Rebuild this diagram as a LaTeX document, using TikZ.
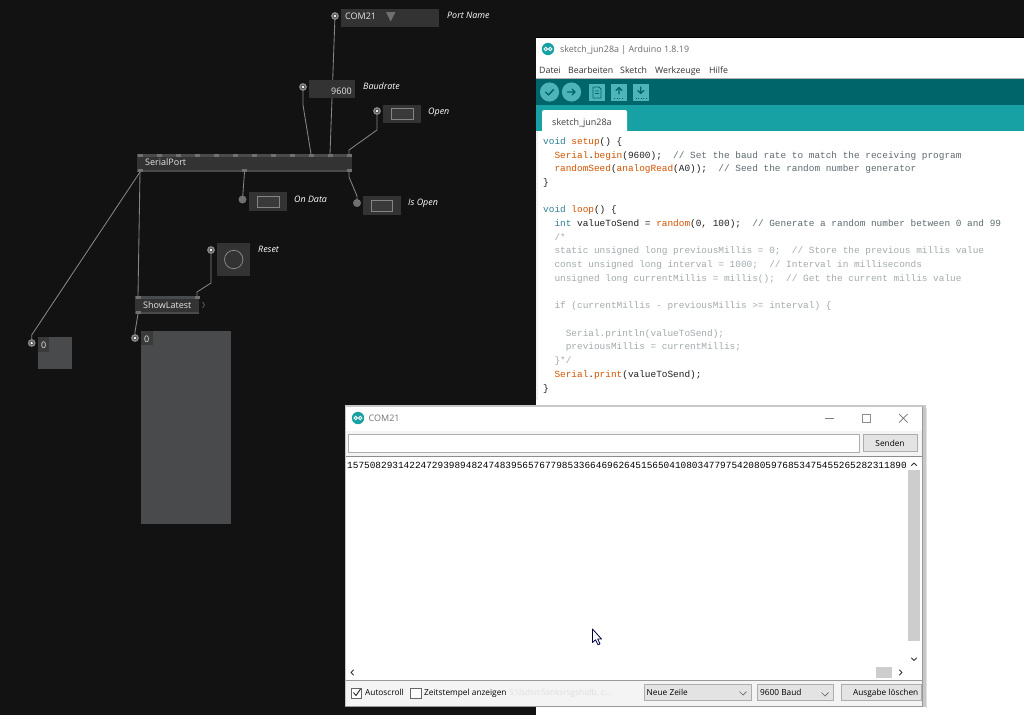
\documentclass[tikz,border=0pt]{standalone}
\usepackage{fontspec}
\setmainfont{Open Sans}
\newfontfamily\codefont{Liberation Mono}
\usetikzlibrary{backgrounds}
\definecolor{bgdark}{HTML}{121212}
\definecolor{boxgray}{HTML}{333333}
\definecolor{pinGray}{HTML}{707070}
\definecolor{wireGray}{HTML}{858585}
\definecolor{ioBox}{HTML}{484A4B}
\definecolor{tagGray}{HTML}{3A3A3A}
\definecolor{tealDark}{HTML}{00646B}
\definecolor{tealMid}{HTML}{17A1A5}
\definecolor{tealLight}{HTML}{4DB5BA}
\definecolor{cOrange}{HTML}{D35400}
\definecolor{cBlue}{HTML}{2F7F93}
\definecolor{cText}{HTML}{1F1F1F}
\definecolor{cCmt}{HTML}{5F6B70}
\definecolor{cFade}{HTML}{A3AAAD}
\definecolor{monGray}{HTML}{F4F4F4}
\definecolor{edgeGray}{HTML}{ADADAD}
\definecolor{btnGray}{HTML}{E3E3E3}
\definecolor{thumbGray}{HTML}{CDCDCD}
\tikzset{
  x=1pt,y=-1pt,
  wire/.style={draw=wireGray,line width=0.85pt,line join=round},
  pinio/.style={circle,inner sep=0pt,outer sep=0pt,minimum size=8pt,fill=pinGray},
  pinmark/.style={circle,inner sep=0pt,outer sep=0pt,minimum size=7.8pt,fill=pinGray!85!white,
    path picture={\fill[black!70] (path picture bounding box.center) circle (2.2pt);\fill[white] (path picture bounding box.center) circle (1.3pt);}},
  port/.style={rectangle,inner sep=0pt,outer sep=0pt,minimum width=5pt,minimum height=3pt,fill=pinGray},
  lbl/.style={inner sep=0pt,anchor=west,text=white,text height=6.5pt,text depth=0pt,font=\itshape\fontsize{8.9}{10}\selectfont},
  uilbl/.style={inner sep=0pt,anchor=west,text=white!90!black,text height=6.5pt,text depth=0pt,font=\fontsize{9}{10}\selectfont},
  code/.style={inner sep=0pt,anchor=base west,font=\codefont\fontsize{9.42}{10}\selectfont,text=cText},
  gui/.style={inner sep=0pt,anchor=west,text=black,text height=6.5pt,text depth=0pt,font=\fontsize{8.3}{10}\selectfont},
  ctl/.style={draw=edgeGray,fill=btnGray,line width=0.8pt},
  tbbtn/.style={fill=tealLight,draw=none},
  glyph/.style={draw=#1,line width=1pt,line cap=round,line join=round},
  inner/.style={draw=pinGray!85!white,line width=0.9pt,fill=tagGray},
}
\newcommand{\rectnode}[6]{\node[inner sep=0pt,outer sep=0pt,minimum width=#4pt-#2pt,minimum height=#5pt-#3pt,fill=#6,anchor=north west] (#1) at (#2,#3) {};}
\newcommand{\ol}[1]{\textcolor{cOrange}{#1}}
\newcommand{\bl}[1]{\textcolor{cBlue}{#1}}
\newcommand{\cm}[1]{\textcolor{cCmt}{#1}}
\begin{document}
\begin{tikzpicture}
\useasboundingbox (0,0) rectangle (1024,715);
\begin{pgfonlayer}{background}
\fill[bgdark] (0,0) rectangle (1024,715);
\end{pgfonlayer}

% ------- patch nodes
\rectnode{comBox}{341}{9}{439}{27}{boxgray}
\node[pinmark] (comPin) at (335,16) {};
\node[uilbl] (comTxt) at (345,16) {COM21};
\fill[pinGray] (386,12) -- (395.5,12) -- (390.7,21.5) -- cycle;
\node[lbl] (portLbl) at (447,15.5) {Port Name};

\rectnode{baudBox}{309}{80}{355}{98}{boxgray}
\node[pinmark] (baudPin) at (303,87) {};
\node[uilbl,anchor=east] (baudVal) at (352,91) {9600};
\node[lbl] (baudLbl) at (363,86) {Baudrate};

\rectnode{openBox}{383}{105}{421}{123}{boxgray}
\node[pinmark] (openPin) at (377,111) {};
\draw[inner] (391.5,108.5) rectangle (413,119);
\node[lbl] (openLbl) at (428,111) {Open};

\rectnode{spBox}{137}{154}{352}{172}{boxgray}
\fill[ioBox] (137,154) rectangle (352,157);
\fill[ioBox] (137,169.5) rectangle (352,172);
\node[uilbl] (spTxt) at (145,162.5) {SerialPort};
\foreach \n/\xx in {a/140,b/159,c/178,d/197,e/216,f/235,g/254,h/273,i/292,j/311,k/330,l/349}
  \node[port] (spt\n) at (\xx,155.5) {};
\node[port] (spbL) at (140,170.5) {};
\node[port] (spbM) at (244.5,170.5) {};
\node[port] (spbR) at (349,170.5) {};

\rectnode{dataBox}{249}{192}{287}{211}{boxgray}
\node[pinio] (dataPin) at (242.5,199.5) {};
\draw[inner] (257,196) rectangle (279,207);
\node[lbl] (dataLbl) at (294,199) {On Data};

\rectnode{isBox}{363}{196}{401}{215}{boxgray}
\node[pinio] (isPin) at (357,203) {};
\draw[inner] (371,200) rectangle (392.5,211);
\node[lbl] (isLbl) at (408,202) {Is Open};

\rectnode{resetBox}{217}{243}{250}{276}{boxgray}
\node[pinmark] (resetPin) at (211,250) {};
\draw[wireGray,line width=0.8pt] (233.7,259.5) circle (9.2);
\node[lbl] (resetLbl) at (258,249) {Reset};

\rectnode{slBox}{135}{296}{199}{314}{boxgray}
\fill[ioBox] (135,296) rectangle (199,298.5);
\fill[ioBox] (135,312) rectangle (199,314);
\node[uilbl] (slTxt) at (143,304.8) {ShowLatest};
\node[port] (sltL) at (138,297.5) {};
\node[port] (sltR) at (197,297.5) {};
\node[port] (slbL) at (138,312.5) {};
\draw[boxgray!80!white,line width=0.7pt] (202.5,302) -- (204.5,305) -- (202.5,308);

\rectnode{ioSmall}{38}{337}{72}{369}{ioBox}
\rectnode{ioSmallTag}{38}{337}{49}{352}{tagGray}
\node[pinmark] (ioSmallPin) at (31.7,343) {};
\node[uilbl] (ioSmallTxt) at (41,345) {0};

\rectnode{ioBig}{141}{331}{231}{524}{ioBox}
\rectnode{ioBigTag}{141}{331}{152.5}{345}{tagGray}
\node[pinmark] (ioBigPin) at (135,338) {};
\node[uilbl] (ioBigTxt) at (144,339) {0};

% ------- wires (behind nodes)
\begin{pgfonlayer}{background}
\draw[wire] (comPin.center) -- (sptk.north);
\draw[wire] (baudPin.center) -- ++(0,18) -- (sptj.north);
\draw[wire] (openPin.center) -- ++(0,19) -- ([yshift=4pt]sptl.north) -- (sptl.north);
\draw[wire] (spbM.south) -- (dataPin.center);
\draw[wire] (spbR.south) -- ++(0,5) -- ([yshift=7pt]isPin.center) -- (isPin.center);
\draw[wire] (spbL.south) -- (sltL.north);
\draw[wire] (spbL.south) -- ([yshift=8pt]ioSmallPin.center) -- (ioSmallPin.center);
\draw[wire] (resetPin.center) -- ++(0,33) -- ([yshift=4pt]sltR.north) -- (sltR.north);
\draw[wire] (slbL.south) -- ([yshift=6pt]ioBigPin.center) -- (ioBigPin.center);
\end{pgfonlayer}

% ------- Arduino editor window
\fill[white] (536,38) rectangle (1024,715);
\fill[black] (536,36.5) rectangle (1024,38);
\fill[black!6] (536,131) rectangle (538,400);
\fill[tealMid] (548,49) circle (6.2);
\draw[white,line width=0.9pt] (545.8,49) circle (1.7) (550.2,49) circle (1.7);
\node[gui,text=black!58,font=\fontsize{8.9}{10}\selectfont] (titleTxt) at (560,49.5) {sketch\_jun28a | Arduino 1.8.19};
\foreach \n/\xx/\t in {mA/539/Datei,mB/568/Bearbeiten,mC/620/Sketch,mD/655/Werkzeuge,mE/709/Hilfe}
  \node[gui,text=black!80,font=\fontsize{8.8}{10}\selectfont] (\n) at (\xx,70) {\t};
\fill[black!30] (536,77.5) rectangle (1024,79);
\fill[tealDark] (536,79) rectangle (1024,105);
\fill[tealMid] (536,105) rectangle (1024,131);
\fill[white] (542,112) [rounded corners=1.5pt] -- (542,110) -- (627,110) [sharp corners] -- (627,131) -- (542,131) -- cycle;
\node[gui,font=\fontsize{9}{10}\selectfont,text=black!75] (tabTxt) at (552,122) {sketch\_jun28a};
% toolbar
\fill[tealLight] (549.5,92) circle (9.6);
\fill[tealLight] (571.5,92) circle (9.6);
\draw[glyph=tealDark,line width=1.4pt] (545.5,92) -- (548.5,95) -- (553.5,89.5);
\draw[glyph=tealDark,line width=1.3pt] (567.5,92) -- (575,92) (572,89) -- (575,92) -- (572,95);
\fill[tbbtn] (589,84) rectangle (605,101);
\fill[tbbtn] (611,84) rectangle (627,101);
\fill[tbbtn] (632.5,84) rectangle (649,101);
\draw[tealDark,line width=0.8pt] (593,87) -- (599,87) -- (601,89) -- (601,98) -- (593,98) -- cycle (595,91) -- (599,91) (595,93.5) -- (599,93.5);
\draw[glyph=tealDark,line width=1.3pt] (619,94) -- (619,88) (616,90.5) -- (619,87.5) -- (622,90.5);
\draw[tealDark,line width=0.6pt,dotted] (614,98.5) -- (624,98.5);
\draw[glyph=tealDark,line width=1.3pt] (640.8,87) -- (640.8,93) (637.8,90.5) -- (640.8,93.5) -- (643.8,90.5);
\draw[tealDark,line width=0.6pt,dotted] (635.5,98.5) -- (646,98.5);

% ------- code
\node[code] (c01) at (543,144) {\bl{void}~\ol{setup}()~\{};
\node[code] (c02) at (543,158) {~~\ol{Serial}.\ol{begin}(9600);~~\cm{//~Set~the~baud~rate~to~match~the~receiving~program}};
\node[code] (c03) at (543,171.5) {~~\ol{randomSeed}(\ol{analogRead}(A0));~~\cm{//~Seed~the~random~number~generator}};
\node[code] (c04) at (543,185) {\}};
\node[code] (c05) at (543,212.5) {\bl{void}~\ol{loop}()~\{};
\node[code] (c06) at (543,226.5) {~~\bl{int}~valueToSend~=~\ol{random}(0,~100);~~\cm{//~Generate~a~random~number~between~0~and~99}};
\node[code,text=cFade] (c07) at (543,240) {~~/*};
\node[code,text=cFade] (c08) at (543,253.5) {~~static~unsigned~long~previousMillis~=~0;~~//~Store~the~previous~millis~value};
\node[code,text=cFade] (c09) at (543,267.5) {~~const~unsigned~long~interval~=~1000;~~//~Interval~in~milliseconds};
\node[code,text=cFade] (c10) at (543,281) {~~unsigned~long~currentMillis~=~millis();~~//~Get~the~current~millis~value};
\node[code,text=cFade] (c11) at (543,308.5) {~~if~(currentMillis~-~previousMillis~>=~interval)~\{};
\node[code,text=cFade] (c12) at (543,336) {~~~~Serial.println(valueToSend);};
\node[code,text=cFade] (c13) at (543,349.5) {~~~~previousMillis~=~currentMillis;};
\node[code,text=cFade] (c14) at (543,363) {~~\}*/};
\node[code] (c15) at (543,377) {~~\ol{Serial}.\ol{print}(valueToSend);};
\node[code] (c16) at (543,391) {\}};

% ------- serial monitor
\fill[black!22] (345,405) rectangle (925.5,707);
\fill[black!12] (925.5,408) rectangle (927,708);
\fill[black!40] (922,407) rectangle (923,706);
\fill[black!40] (345,705.5) rectangle (923,706.5);
\fill[monGray] (345.5,406.5) rectangle (922,705.5);
\fill[white] (345.5,406.5) rectangle (922,431);
\fill[tealMid] (358,418) circle (6.2);
\draw[white,line width=0.9pt] (355.8,418) circle (1.7) (360.2,418) circle (1.7);
\node[gui,text=black!55,font=\fontsize{9}{10}\selectfont] (monTitle) at (368.5,418.5) {COM21};
\draw[black!50,line width=0.7pt] (825,418) -- (834,418);
\draw[black!45,line width=0.7pt] (862,414) rectangle (870,422);
\draw[black!55,line width=0.7pt] (899,414) -- (907.5,422.5) (907.5,414) -- (899,422.5);
\node[draw=edgeGray,fill=white,line width=0.8pt,inner sep=0pt,outer sep=0pt,minimum width=511pt,minimum height=18pt,anchor=north west] (monInput) at (348,434) {};
\node[ctl,inner sep=0pt,outer sep=0pt,minimum width=54pt,minimum height=17pt,anchor=north west,font=\fontsize{8.3}{10}\selectfont,text=black] (sendBtn) at (863,434.5) {Senden};
\fill[white] (346,456) rectangle (921.5,680);
\draw[black!45,line width=0.7pt] (345.5,456) -- (921.5,456);
\draw[black!40,line width=0.9pt] (345.5,680) -- (921.5,680);
\node[code,text=black] (monData) at (347,468) {157508293142247293989482474839565767798533664696264515650410803477975420805976853475455265282311890};
\fill[thumbGray] (908,470) rectangle (919.5,641);
\fill[thumbGray] (876,667) rectangle (892,678);
\draw[glyph=black!80,line width=1pt] (911.5,465.5) -- (914,463) -- (916.5,465.5);
\draw[glyph=black!80,line width=1pt] (911.5,658) -- (914,660.5) -- (916.5,658);
\draw[glyph=black!80,line width=1pt] (353.5,670) -- (351,672.5) -- (353.5,675);
\draw[glyph=black!80,line width=1pt] (899.5,670) -- (902,672.5) -- (899.5,675);
% bottom bar
\draw[black!60,fill=white,line width=0.7pt] (351.5,688) rectangle (361.5,698);
\draw[black!85,line width=0.9pt] (353.5,692.5) -- (356,695.5) -- (360.5,689);
\node[gui] (autoTxt) at (365,692.5) {Autoscroll};
\draw[black!60,fill=white,line width=0.7pt] (410.5,688) rectangle (421,698);
\node[gui] (zeitTxt) at (424,692.5) {Zeitstempel anzeigen};
\node[gui,text=black!13] (hiddenTxt) at (509,692.5) {S:\textbackslash lsdsn:Ssnksrsgshidb, c...};
\node[ctl,inner sep=0pt,outer sep=0pt,minimum width=107pt,minimum height=16.5pt,anchor=north west] (lineCombo) at (644,684) {};
\node[gui] (lineTxt) at (646.5,692.5) {Neue Zeile};
\draw[black!60,line width=0.7pt] (739.5,691.5) -- (743,695) -- (746.5,691.5);
\node[ctl,inner sep=0pt,outer sep=0pt,minimum width=76pt,minimum height=16.5pt,anchor=north west] (baudCombo) at (757,684) {};
\node[gui] (baudTxt) at (760,692.5) {9600 Baud};
\draw[black!60,line width=0.7pt] (821.5,692.5) -- (825,696) -- (828.5,692.5);
\node[ctl,inner sep=0pt,outer sep=0pt,minimum width=80pt,minimum height=16.5pt,anchor=north west] (clearBtn) at (841,684) {};
\node[gui,anchor=east] (clearTxt) at (918.5,692.5) {Ausgabe löschen};
% mouse pointer
\draw[fill=white,draw=black!75!blue,line width=0.8pt,line join=round] (592.5,629) -- (592.5,642.5) -- (595.5,639.8) -- (598,644.8) -- (600,643.8) -- (597.6,639) -- (601.5,639) -- cycle;
\end{tikzpicture}
\end{document}
